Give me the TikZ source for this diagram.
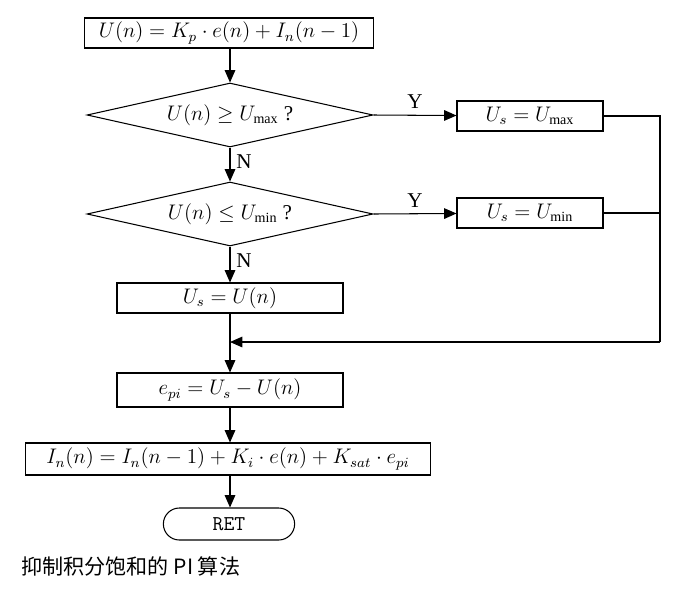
\documentclass[tikz,border=0pt]{standalone}
\usepackage{fontspec}
\setmainfont{Liberation Serif}
\newfontfamily\cjk{Noto Sans CJK SC}
\usetikzlibrary{shapes.geometric,shapes.misc,arrows.meta}
\begin{document}
\begin{tikzpicture}[x=0.02cm,y=-0.02cm,line width=0.6pt,
  box/.style={draw,minimum height=0.6cm,inner sep=1pt,font=\large},
  dia/.style={draw,diamond,aspect=4.5,minimum width=5.72cm,minimum height=1.28cm,inner sep=0pt,font=\large},
  arr/.style={-{Triangle[length=7pt,width=6pt]}},
  lab/.style={font=\large}]
\useasboundingbox (0,0) rectangle (676,589);
\node[box,minimum width=5.78cm] (b1) at (229,33) {$U(n)=K_p\cdot e(n)+I_n(n-1)$};
\node[dia] (d1) at (230,115) {$U(n)\geq U_{\max}$ ?};
\node[box,minimum width=2.92cm] (mx) at (530,116) {$U_s=U_{\max}$};
\node[dia] (d2) at (230,214) {$U(n)\leq U_{\min}$ ?};
\node[box,minimum width=2.92cm] (mn) at (530,213) {$U_s=U_{\min}$};
\node[box,minimum width=4.52cm] (un) at (230,298) {$U_s=U(n)$};
\coordinate (j) at (230,342);
\coordinate (r1) at (660,116);
\coordinate (r2) at (660,342);
\node[box,minimum width=4.52cm,minimum height=0.68cm] (ep) at (230,390) {$e_{pi}=U_s-U(n)$};
\node[box,minimum width=8.12cm,minimum height=0.64cm] (in) at (228,459) {$I_n(n)=I_n(n-1)+K_i\cdot e(n)+K_{sat}\cdot e_{pi}$};
\node[draw,rounded rectangle,minimum width=2.86cm,minimum height=0.64cm,font=\ttfamily\large] (ret) at (229,524) {RET};
\node[anchor=west,font=\cjk\large] (cap) at (15,566) {抑制积分饱和的 PI 算法};
\draw[arr] (b1.south -| d1) -- (d1.north);
\draw[arr] (d1.east) -- node[lab,above]{Y} (mx);
\draw[arr] (d1.south) -- node[lab,right,pos=0.4]{N} (d2.north);
\draw[arr] (d2.east) -- node[lab,above]{Y} (mn);
\draw[arr] (d2.south) -- node[lab,right,pos=0.4]{N} (un.north);
\draw (mx.east) -- (r1) -- (r2);
\draw (mn.east) -- (mn.east -| r1);
\draw[arr] (r2) -- (j);
\draw[arr] (un.south) -- (ep.north);
\draw[arr] (ep.south) -- (ep.south |- in.north);
\draw[arr] (ep.south |- in.south) -- (ep.south |- ret.north);
\end{tikzpicture}
\end{document}
